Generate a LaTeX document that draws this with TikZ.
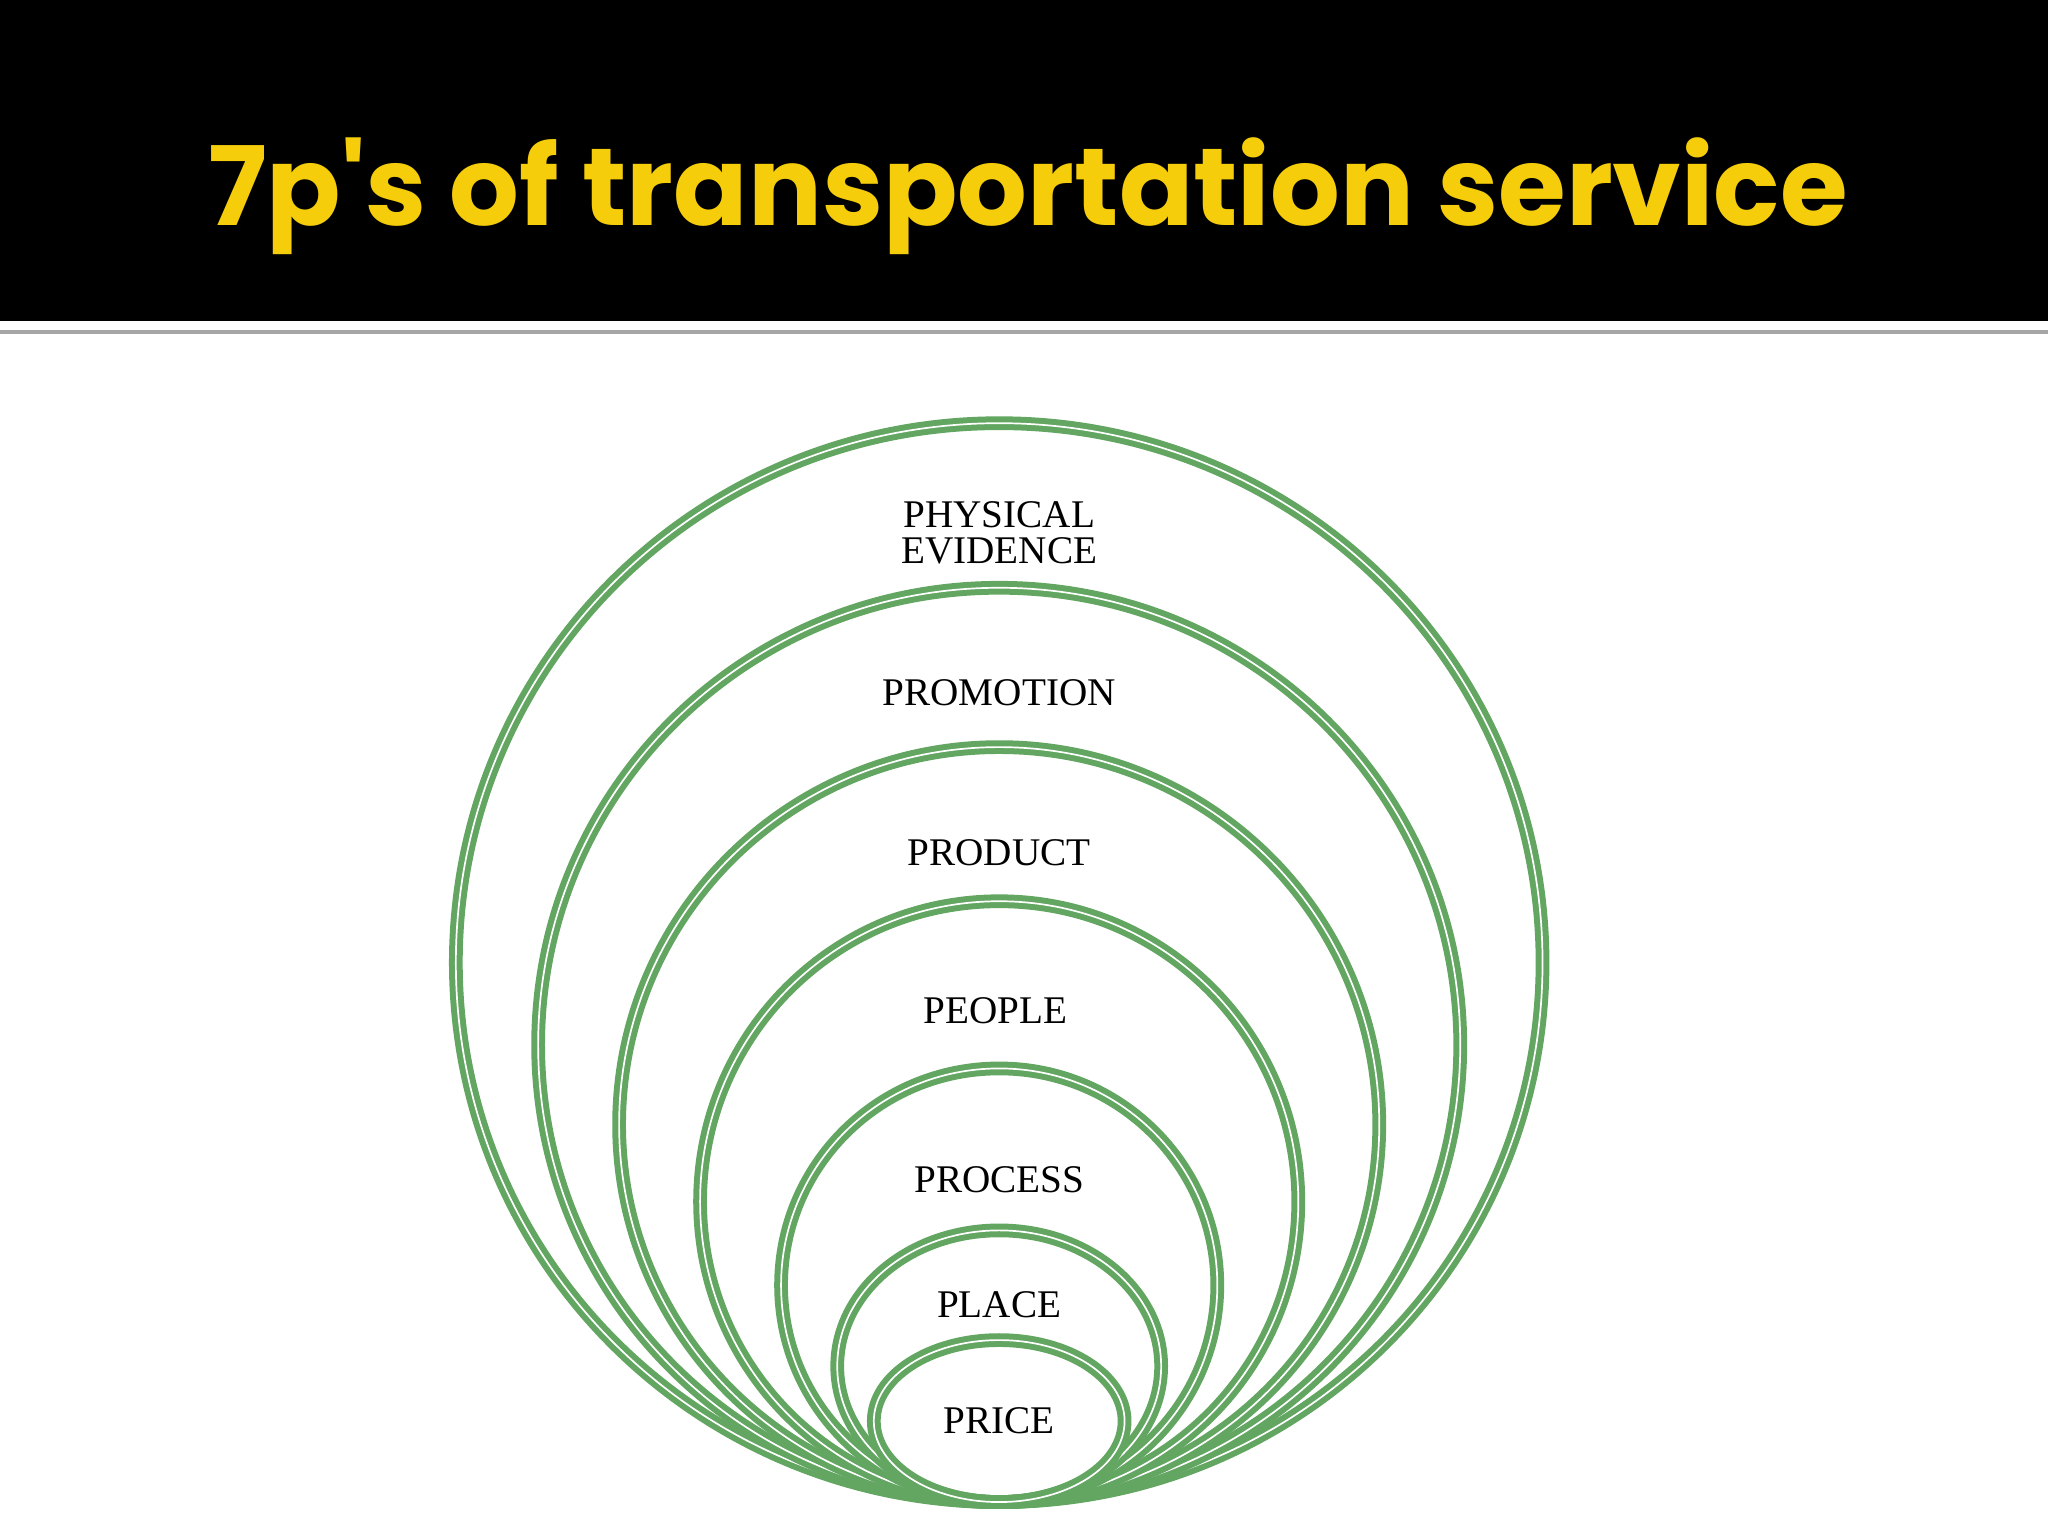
\documentclass[tikz,border=0pt]{standalone}
\usepackage{fontspec}
\setmainfont{Liberation Serif}
\newfontfamily\titlefont{Poppins}
\definecolor{ring}{RGB}{98,166,98}
\definecolor{ttl}{RGB}{245,205,10}
\begin{document}
\begin{tikzpicture}[x=1pt,y=-1pt,
  ringst/.style={draw=ring,line width=4.6pt,double=white,double distance=1.3pt},
  lab/.style={font=\fontsize{30}{30}\selectfont,align=center,inner sep=0pt}]
\useasboundingbox (0,0) rectangle (1568,1176);
\fill[white] (0,0) rectangle (1568,1176);
\fill[black] (0,0) rectangle (1568,246);
\draw[gray!70,line width=3pt] (0,254) -- (1568,254);
\node[text=ttl,inner sep=0pt] (title) at (787,150) {\resizebox{1255pt}{!}{\titlefont\bfseries 7p's of transportation service}};
\draw[ringst] (765,737) ellipse (416 and 413);
\draw[ringst] (765,800) ellipse (353 and 350);
\draw[ringst] (765,861) ellipse (291 and 289);
\draw[ringst] (765,920) ellipse (229 and 230);
\draw[ringst] (765,984) ellipse (167 and 166);
\draw[ringst] (765,1046) ellipse (124 and 104);
\draw[ringst] (765,1088) ellipse (96 and 62);
\node[lab] (pe) at (765,408) {PHYSICAL\\[-2pt]EVIDENCE};
\node[lab] (pm) at (765,530) {PROMOTION};
\node[lab] (pd) at (765,653) {PRODUCT};
\node[lab] (pp) at (762,774) {PEOPLE};
\node[lab] (pc) at (765,903) {PROCESS};
\node[lab] (pl) at (765,999) {PLACE};
\node[lab] (pr) at (765,1088) {PRICE};
\end{tikzpicture}
\end{document}
